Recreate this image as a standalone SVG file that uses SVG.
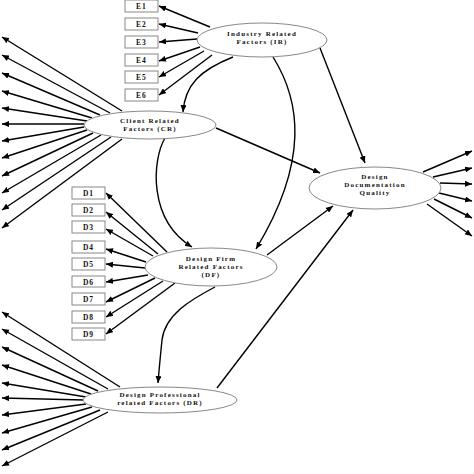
<svg xmlns="http://www.w3.org/2000/svg" width="474" height="474" viewBox="0 0 474 474">
<style>
.c{stroke:#000;stroke-width:1.4;fill:none;marker-end:url(#ah)}
.el{fill:#fff;stroke:#888;stroke-width:1}
.bx{fill:#fff;stroke:#888;stroke-width:1}
text{font-family:"Liberation Serif","Times New Roman",serif;font-weight:bold;font-size:7px;letter-spacing:1.2px;text-anchor:middle;fill:#111}
.b{font-size:7.5px;letter-spacing:1px}
</style>
<defs>
<marker id="ah" markerUnits="userSpaceOnUse" markerWidth="8" markerHeight="6" refX="7" refY="3" orient="auto">
<path d="M0,0 L7,3 L0,6 Z" fill="#000"/>
</marker>
</defs>
<rect width="474" height="474" fill="#fff"/>
<g id="connectors">
<line class="c" x1="210" y1="27" x2="159" y2="6"/>
<line class="c" x1="198" y1="33" x2="159" y2="24"/>
<line class="c" x1="197" y1="39" x2="159" y2="42"/>
<line class="c" x1="200" y1="47" x2="159" y2="61"/>
<line class="c" x1="204" y1="51" x2="159" y2="77"/>
<line class="c" x1="212" y1="55" x2="159" y2="95"/>
<line class="c" x1="122" y1="111" x2="2" y2="37"/>
<line class="c" x1="110" y1="113" x2="2" y2="55"/>
<line class="c" x1="100" y1="115" x2="2" y2="73"/>
<line class="c" x1="92" y1="118" x2="2" y2="91"/>
<line class="c" x1="87" y1="121" x2="2" y2="108"/>
<line class="c" x1="84" y1="124" x2="2" y2="124"/>
<line class="c" x1="84" y1="127" x2="2" y2="141"/>
<line class="c" x1="87" y1="130" x2="2" y2="158"/>
<line class="c" x1="93" y1="133" x2="2" y2="176"/>
<line class="c" x1="101" y1="135" x2="2" y2="193"/>
<line class="c" x1="111" y1="137" x2="2" y2="210"/>
<line class="c" x1="122" y1="139" x2="2" y2="228"/>
<line class="c" x1="167" y1="252" x2="106" y2="193"/>
<line class="c" x1="158" y1="254" x2="106" y2="212"/>
<line class="c" x1="153" y1="256" x2="106" y2="229"/>
<line class="c" x1="146" y1="262" x2="106" y2="249"/>
<line class="c" x1="145" y1="268" x2="106" y2="264"/>
<line class="c" x1="148" y1="275" x2="106" y2="282"/>
<line class="c" x1="155" y1="278" x2="106" y2="302"/>
<line class="c" x1="163" y1="281" x2="106" y2="317"/>
<line class="c" x1="175" y1="283" x2="106" y2="334"/>
<line class="c" x1="120" y1="387" x2="2" y2="312"/>
<line class="c" x1="108" y1="389" x2="2" y2="329"/>
<line class="c" x1="98" y1="391" x2="2" y2="347"/>
<line class="c" x1="91" y1="394" x2="2" y2="365"/>
<line class="c" x1="86" y1="397" x2="2" y2="383"/>
<line class="c" x1="84" y1="400" x2="2" y2="398"/>
<line class="c" x1="86" y1="404" x2="2" y2="415"/>
<line class="c" x1="92" y1="407" x2="2" y2="433"/>
<line class="c" x1="100" y1="410" x2="2" y2="450"/>
<line class="c" x1="108" y1="412" x2="2" y2="466"/>
<line class="c" x1="423" y1="172" x2="472" y2="151"/>
<line class="c" x1="433" y1="177" x2="472" y2="168"/>
<line class="c" x1="440" y1="183" x2="472" y2="184"/>
<line class="c" x1="439" y1="193" x2="472" y2="201"/>
<line class="c" x1="434" y1="199" x2="472" y2="218"/>
<line class="c" x1="427" y1="204" x2="472" y2="236"/>
<path class="c" d="M233,57 C200,70 185,85 183,112"/>
<path class="c" d="M273,57 C300,100 310,160 256,249"/>
<line class="c" x1="320" y1="48" x2="365" y2="163"/>
<line class="c" x1="216" y1="128" x2="320" y2="173"/>
<path class="c" d="M165,138 C152,160 148,220 192,247"/>
<line class="c" x1="267" y1="255" x2="333" y2="206"/>
<line class="c" x1="217" y1="388" x2="353" y2="210"/>
<path class="c" d="M215,287 C190,300 165,315 162,340 C160,360 159,370 158,383"/>
</g>
<g id="E1"><rect class="bx" x="125" y="0" width="33" height="12"/><text class="b" x="141.5" y="9">E1</text></g>
<g id="E2"><rect class="bx" x="125" y="18" width="33" height="12"/><text class="b" x="141.5" y="27">E2</text></g>
<g id="E3"><rect class="bx" x="125" y="36" width="33" height="12"/><text class="b" x="141.5" y="45">E3</text></g>
<g id="E4"><rect class="bx" x="125" y="54" width="33" height="12"/><text class="b" x="141.5" y="63">E4</text></g>
<g id="E5"><rect class="bx" x="125" y="71" width="33" height="12"/><text class="b" x="141.5" y="80">E5</text></g>
<g id="E6"><rect class="bx" x="125" y="89" width="33" height="12"/><text class="b" x="141.5" y="98">E6</text></g>
<g id="IR"><ellipse class="el" cx="262" cy="40" rx="65" ry="17"/><text x="262" y="36">Industry Related</text><text x="262" y="44">Factors (IR)</text></g>
<g id="CR"><ellipse class="el" cx="150" cy="125" rx="66" ry="14"/><text x="150" y="123">Client Related</text><text x="150" y="131">Factors (CR)</text></g>
<g id="DDQ"><ellipse class="el" cx="375" cy="188" rx="66" ry="21"/><text x="375" y="179">Design</text><text x="375" y="187">Documentation</text><text x="375" y="195">Quality</text></g>
<g id="DF"><ellipse class="el" cx="211" cy="267" rx="66" ry="19"/><text x="211" y="261">Design Firm</text><text x="211" y="269">Related Factors</text><text x="211" y="277">(DF)</text></g>
<g id="DR"><ellipse class="el" cx="160" cy="400" rx="77" ry="13"/><text x="160" y="397">Design Professional</text><text x="160" y="405">related Factors (DR)</text></g>
<g id="D1"><rect class="bx" x="72" y="187" width="33" height="12"/><text class="b" x="88.5" y="196">D1</text></g>
<g id="D2"><rect class="bx" x="72" y="204" width="33" height="12"/><text class="b" x="88.5" y="213">D2</text></g>
<g id="D3"><rect class="bx" x="72" y="221" width="33" height="12"/><text class="b" x="88.5" y="230">D3</text></g>
<g id="D4"><rect class="bx" x="72" y="241" width="33" height="12"/><text class="b" x="88.5" y="250">D4</text></g>
<g id="D5"><rect class="bx" x="72" y="258" width="33" height="12"/><text class="b" x="88.5" y="267">D5</text></g>
<g id="D6"><rect class="bx" x="72" y="276" width="33" height="11"/><text class="b" x="88.5" y="284.5">D6</text></g>
<g id="D7"><rect class="bx" x="72" y="293" width="33" height="12"/><text class="b" x="88.5" y="302">D7</text></g>
<g id="D8"><rect class="bx" x="72" y="311" width="33" height="12"/><text class="b" x="88.5" y="320">D8</text></g>
<g id="D9"><rect class="bx" x="72" y="328" width="33" height="12"/><text class="b" x="88.5" y="337">D9</text></g>
</svg>
